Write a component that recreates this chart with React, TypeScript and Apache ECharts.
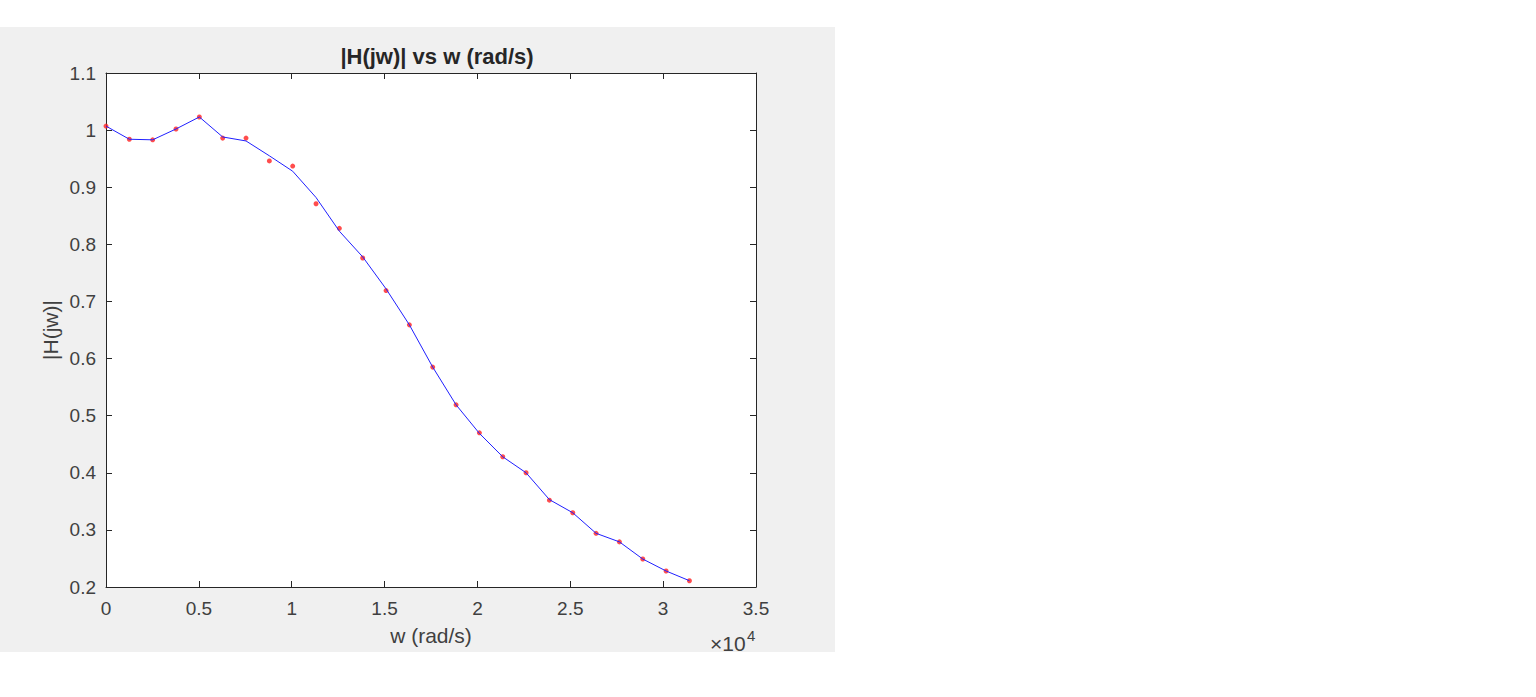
import React, { useEffect, useRef } from "react";
import * as echarts from "echarts";

const omega = [0, 1257, 2513, 3770, 5027, 6283, 7540, 8796, 10053, 11310, 12566, 13823, 15080, 16336, 17593, 18850, 20106, 21363, 22619, 23876, 25133, 26389, 27646, 28903, 30159, 31416];
const measured = [1.007, 0.984, 0.983, 1.002, 1.023, 0.986, 0.986, 0.946, 0.937, 0.871, 0.828, 0.776, 0.719, 0.659, 0.585, 0.519, 0.470, 0.428, 0.400, 0.352, 0.330, 0.294, 0.279, 0.249, 0.228, 0.211];
const theory = [1.007, 0.984, 0.983, 1.002, 1.023, 0.988, 0.981, 0.955, 0.928, 0.882, 0.823, 0.778, 0.722, 0.659, 0.585, 0.519, 0.469, 0.428, 0.400, 0.353, 0.330, 0.294, 0.279, 0.249, 0.228, 0.211];
const xTicks = ["0", "0.5", "1", "1.5", "2", "2.5", "3", "3.5"];

const FONT = "'Liberation Sans', Arial, Helvetica, sans-serif";
const INK = "#262626";
const LABEL_INK = "#404040";

export default function App() {
  const ref = useRef<HTMLDivElement>(null);
  useEffect(() => {
    if (!ref.current) return;
    const chart = echarts.init(ref.current, undefined, { renderer: "svg" });
    const axisCommon = {
      axisLine: { show: true, onZero: false, lineStyle: { color: INK, width: 1 } },
      axisTick: { show: true, inside: true, length: 6, lineStyle: { color: INK, width: 1 } },
      splitLine: { show: false },
    };
    chart.setOption({
      animation: false,
      backgroundColor: "#ffffff",
      textStyle: { fontFamily: FONT },
      title: {
        text: "|H(jw)| vs w (rad/s)",
        left: 432,
        top: 40,
        textAlign: "center",
        textStyle: { fontFamily: FONT, fontSize: 22, fontWeight: "bold", color: INK },
      },
      graphic: [
        {
          type: "rect",
          z: -100,
          shape: { x: 0, y: 27, width: 835, height: 625 },
          style: { fill: "#f0f0f0" },
          silent: true,
        },
        {
          type: "text",
          x: 710,
          y: 643,
          style: {
            text: "×10",
            fontSize: 21,
            fontFamily: FONT,
            fill: LABEL_INK,
            verticalAlign: "middle",
            align: "left",
          },
        },
        {
          type: "text",
          x: 747,
          y: 635,
          style: {
            text: "4",
            fontSize: 15,
            fontFamily: FONT,
            fill: LABEL_INK,
            verticalAlign: "middle",
            align: "left",
          },
        },
      ],
      grid: {
        left: 106,
        top: 73,
        width: 650,
        height: 514,
        show: true,
        backgroundColor: "#ffffff",
        borderWidth: 0,
      },
      xAxis: [
        {
          type: "value",
          position: "bottom",
          min: 0,
          max: 35000,
          interval: 5000,
          ...axisCommon,
          axisLabel: {
            color: LABEL_INK,
            fontSize: 19,
            fontFamily: FONT,
            margin: 12,
            formatter: (v: number) => xTicks[Math.round(v / 5000)] ?? "",
          },
          name: "w (rad/s)",
          nameLocation: "middle",
          nameGap: 38,
          nameTextStyle: { color: LABEL_INK, fontSize: 21, fontFamily: FONT },
        },
        {
          type: "value",
          position: "top",
          min: 0,
          max: 35000,
          interval: 5000,
          ...axisCommon,
          axisLabel: { show: false },
        },
      ],
      yAxis: [
        {
          type: "value",
          position: "left",
          min: 0.2,
          max: 1.1,
          interval: 0.1,
          ...axisCommon,
          axisLabel: {
            color: LABEL_INK,
            fontSize: 19,
            fontFamily: FONT,
            margin: 10,
            formatter: (v: number) => String(Math.round(v * 10) / 10),
          },
          name: "|H(jw)|",
          nameLocation: "middle",
          nameGap: 45,
          nameRotate: 90,
          nameTextStyle: { color: LABEL_INK, fontSize: 21, fontFamily: FONT },
        },
        {
          type: "value",
          position: "right",
          min: 0.2,
          max: 1.1,
          interval: 0.1,
          ...axisCommon,
          axisLabel: { show: false },
        },
      ],
      series: [
        {
          type: "scatter",
          name: "measured",
          data: omega.map((w, i) => [w, measured[i]]),
          symbol: "circle",
          symbolSize: 5,
          itemStyle: { color: "#ff2020" },
          z: 2,
        },
        {
          type: "line",
          name: "theory",
          data: omega.map((w, i) => [w, theory[i]]),
          showSymbol: false,
          symbol: "none",
          lineStyle: { color: "#2020ff", width: 1 },
          z: 3,
        },
      ],
    });
    return () => chart.dispose();
  }, []);
  return (
    <div
      ref={ref}
      style={{ position: "absolute", left: 0, top: 0, width: 1536, height: 697 }}
    />
  );
}
